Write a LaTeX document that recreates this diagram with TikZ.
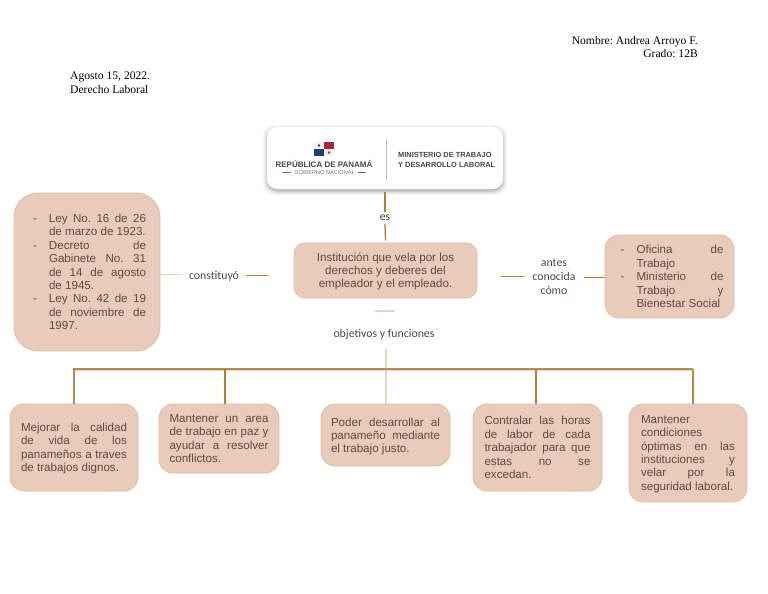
\documentclass[tikz,border=0pt]{standalone}
\usepackage{fontspec}
\setmainfont{Liberation Serif}
\setsansfont{Liberation Sans}
\newfontfamily\lblfont{Carlito}
\usetikzlibrary{calc}
\AtBeginDocument{\frenchspacing}
\definecolor{boxfill}{HTML}{E9CBBB}
\definecolor{boxline}{HTML}{E3BF9F}
\definecolor{boxtext}{HTML}{5E4A42}
\definecolor{darkline}{HTML}{BD7B2C}
\definecolor{midline}{HTML}{B98A4A}
\definecolor{lightline}{HTML}{EBD3BD}
\definecolor{lbltext}{HTML}{54443E}
\definecolor{flagred}{HTML}{A5283C}
\definecolor{flagblue}{HTML}{1F3F6E}
\newcommand{\JL}[1]{\makebox[\linewidth][s]{#1}\par}
\newcommand{\LL}[1]{\mbox{#1}\par}
\newcommand{\DL}[1]{\leavevmode\llap{-\hspace{12pt}}\makebox[\linewidth][s]{#1}\par}
\newcommand{\BT}[4][0]{\vbox{\kern#1pt\hbox{\hspace*{#2pt}\parbox{#3pt}{\raggedright\parindent=0pt #4}}}}
\tikzset{
  boxbase/.style={draw=boxline,line width=0.9pt,fill=boxfill,inner sep=0pt,text=boxtext,
    font=\sffamily\fontsize{11.6}{13.4}\selectfont},
  rbox/.style={boxbase,rounded corners=14pt},
  lbl/.style={text=lbltext,inner sep=0pt,align=center,font=\lblfont\fontsize{11.8}{14}\selectfont},
  head/.style={text=black,inner sep=0pt,font=\rmfamily\fontsize{11.6}{13.6}\selectfont},
  dark/.style={draw=darkline,line width=1.3pt},
  light/.style={draw=lightline,line width=1.3pt},
  mid/.style={draw=midline,line width=1.2pt},
  logotxt/.style={inner sep=0pt,text=black!72,align=left,font=\sffamily\bfseries\fontsize{7.4}{9.4}\selectfont},
}
\begin{document}
\begin{tikzpicture}[x=1pt,y=-1pt]
\useasboundingbox (0,0) rectangle (768,594);
% headers
\node[head,anchor=east,align=right] (nombre) at (698,47) {Nombre: Andrea Arroyo F.\\Grado: 12B};
\node[head,anchor=west,align=left] (fecha) at (70,82.5) {Agosto 15, 2022.\\Derecho Laboral};
% logo shadow
\foreach \g/\o in {4/0.03,3/0.04,2/0.05,1/0.07,0/0.09}
  \fill[black,opacity=\o,rounded corners=11pt] (267-\g,129-\g) rectangle (503+\g,191+\g);
% logo
\node[draw=none,fill=white,rounded corners=10pt,minimum width=236pt,minimum height=62pt,inner sep=0pt] (logo) at (385,158) {};
\fill[black!5] (314,142) rectangle (324,149);
\fill[black!5] (324,149) rectangle (334,156);
\fill[flagred] (324,142) rectangle (334,149);
\fill[flagblue] (314,149) rectangle (324,156);
\fill[flagblue] (319,145.5) circle (1.3);
\fill[flagred] (329,152.5) circle (1.3);
\node[logotxt,anchor=center,font=\sffamily\bfseries\fontsize{8}{9.4}\selectfont] (rep) at (324,164) {REPÚBLICA DE PANAMÁ};
\node[inner sep=0pt,text=black!55,font=\sffamily\fontsize{5.6}{6}\selectfont] (gob) at (324.5,172.5) {GOBIERNO NACIONAL};
\draw[flagred!80,line width=.6pt] (282,172.5) -- (291,172.5);
\draw[flagblue!80,line width=.6pt] (358,172.5) -- (366,172.5);
\draw[black!25,line width=1pt] (386,139) -- (386,180);
\node[logotxt,anchor=west] (min) at (398,160) {MINISTERIO DE TRABAJO\\Y DESARROLLO LABORAL};
% main boxes
\node[rbox,minimum width=183pt,minimum height=55pt,rounded corners=11pt] (inst) at (385.5,270.5)
  {\vbox{\kern2pt\hbox{\parbox{170pt}{\centering Institución que vela por los\\derechos y deberes del\\empleador y el empleado.}}}};
\node[rbox,rounded corners=24pt,minimum width=146pt,minimum height=158pt] (leyes) at (87,272)
 {\BT{21}{97}{\DL{Ley No. 16 de 26}\LL{de marzo de 1923.}\DL{Decreto de}\JL{Gabinete No. 31}\JL{de 14 de agosto}\LL{de 1945.}\DL{Ley No. 42 de 19}\JL{de noviembre de}\LL{1997.}}};
\node[rbox,minimum width=129pt,minimum height=83pt] (nombres) at (669.5,276.5)
 {\BT{21}{87}{\DL{Oficina de}\LL{Trabajo}\DL{Ministerio de}\JL{Trabajo y}\LL{Bienestar Social}}};
% bottom boxes
\node[rbox,minimum width=128pt,minimum height=87pt] (b1) at (74,447.5)
 {\BT[2]{0}{106}{\JL{Mejorar la calidad}\JL{de vida de los}\JL{panameños a traves}\LL{de trabajos dignos.}}};
\node[rbox,minimum width=120pt,minimum height=69pt] (b2) at (219,438.5)
 {\BT{0}{99}{\JL{Mantener un area}\JL{de trabajo en paz y}\JL{ayudar a resolver}\LL{conflictos.}}};
\node[rbox,minimum width=129pt,minimum height=62pt] (b3) at (385.5,435)
 {\BT[3]{0}{109}{\JL{Poder desarrollar al}\JL{panameño mediante}\LL{el trabajo justo.}}};
\node[rbox,minimum width=129pt,minimum height=87pt] (b4) at (537.5,447.5)
 {\BT{0}{106}{\JL{Contralar las horas}\JL{de labor de cada}\JL{trabajador para que}\JL{estas no se}\LL{excedan.}}};
\node[rbox,minimum width=118pt,minimum height=98pt] (b5) at (688,453)
 {\BT[2]{0}{94}{\LL{Mantener}\LL{condiciones}\JL{óptimas en las}\JL{instituciones y}\JL{velar por la}\LL{seguridad laboral.}}};
% labels
\node[lbl] (es) at (385,217.5) {es};
\node[lbl] (const) at (214,276.5) {constituyó};
\node[lbl] (antes) at (554,276.5) {antes\\conocida\\cómo};
\node[lbl] (obj) at (384,334.5) {objetivos y funciones};
% junction points and free ends
\coordinate (top) at (386,369);
\coordinate (dashL) at (375,311);
\coordinate (dashR) at (395,311);
% connectors
\draw[dark] ([yshift=-3pt]logo.south) -- ([yshift=2pt]es.north);
\draw[dark] ([yshift=-3pt]es.south) -- ([yshift=2pt]inst.north);
\draw[light] (leyes.east |- const) ++(0,-1.8) -- ($(const.west)+(-7,-1.8)$);
\draw[dark] ($(const.east)+(7,-.8)$) -- ($(inst.west)+(-26,5.2)$);
\draw[dark] ($(inst.east)+(24,6.2)$) -- ($(antes.west)+(-8,.2)$);
\draw[dark] ($(antes.east)+(8,.8)$) -- (nombres.west |- {$(antes.east)+(0,.8)$});
\draw[light] (dashL) -- (dashR);
\draw[light] ([yshift=-9pt]obj.south -| top) -- (top);
\draw[light] (top) -- (b3.north -| top);
\draw[draw=lightline,line width=1pt] (74,370) -- (693,370);
\draw[mid] (b1.north -| 74,0) |- (top);
\draw[mid] (top) -- (536,369);
\draw[mid] (536,369) -- (693,369);
\draw[dark] (b2.north -| 225,0) -- (225,369);
\draw[dark] (b4.north -| 536,0) -- (536,369);
\draw[mid] (b5.north -| 693,0) -- (693,369);
\end{tikzpicture}
\end{document}
